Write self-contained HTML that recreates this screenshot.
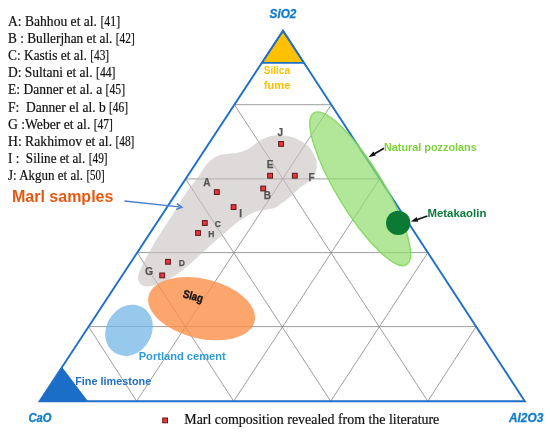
<!DOCTYPE html>
<html><head><meta charset="utf-8"><title>Ternary diagram</title>
<style>
html,body{margin:0;padding:0;background:#fff;}
body{width:550px;height:433px;overflow:hidden;}
svg{display:block;}
.ser{font-family:"Liberation Serif",serif;fill:#111;}
.san{font-family:"Liberation Sans",sans-serif;font-weight:bold;}
</style></head><body>
<svg width="550" height="433" viewBox="0 0 550 433">
<rect width="550" height="433" fill="#fff"/>
<!-- grid -->
<path d="M234.4 104.7L331.3 104.7M185.6 178.9L379.7 178.9M137.2 252.6L427.8 252.6M88.6 326.6L476.1 326.6M234.4 104.7L427.8 401.2M185.6 178.9L330.7 401.2M137.2 252.6L233.7 401.2M88.6 326.6L136.6 401.2M331.3 104.7L136.6 401.2M379.7 178.9L233.7 401.2M427.8 252.6L330.7 401.2M476.1 326.6L427.8 401.2" stroke="#8c8c8c" stroke-width="0.85" fill="none"/>
<!-- gray blob -->
<path d="M147.3 286.6C144.2 286.8 142.7 285.7 141.2 284.6C139.7 283.5 138.6 281.7 138.2 279.8C137.8 277.9 137.9 276.1 139.0 273.0C140.1 269.9 142.6 264.8 144.5 261.0C146.4 257.2 148.6 253.5 150.5 250.0C152.4 246.5 154.2 243.3 156.2 240.0C158.2 236.7 160.1 233.7 162.5 229.9C164.9 226.1 167.9 221.9 170.8 217.4C173.7 212.9 177.0 207.3 179.8 202.9C182.6 198.5 184.8 194.9 187.4 191.1C190.1 187.3 193.6 182.8 195.7 180.0C197.8 177.2 198.1 177.0 199.8 174.5C201.6 172.0 204.0 167.7 206.2 165.0C208.4 162.3 210.6 160.2 213.1 158.5C215.6 156.8 218.1 155.6 221.2 154.8C224.3 154.0 228.3 154.0 231.6 153.5C234.9 153.0 237.9 152.7 240.8 151.9C243.7 151.1 246.2 150.2 249.2 148.5C252.1 146.8 255.4 143.5 258.5 141.6C261.6 139.7 264.4 137.9 267.7 136.9C271.0 135.9 274.4 135.4 278.1 135.3C281.8 135.2 286.1 135.7 289.7 136.5C293.3 137.3 296.7 138.6 300.0 140.4C303.3 142.2 306.8 144.6 309.3 147.3C311.8 150.0 313.8 153.5 315.1 156.6C316.4 159.7 317.0 162.7 316.9 165.8C316.8 168.9 315.9 172.3 314.4 175.0C312.9 177.7 310.5 179.9 308.1 182.0C305.7 184.1 303.0 185.2 300.0 187.7C297.0 190.2 292.9 194.4 290.0 196.9C287.1 199.4 284.8 200.9 282.4 202.7C280.0 204.5 277.8 206.5 275.5 207.6C273.2 208.7 271.2 208.7 268.5 209.2C265.8 209.7 262.4 210.0 259.3 210.8C256.2 211.6 253.1 212.7 250.0 214.2C246.9 215.7 243.9 217.9 240.8 220.0C237.7 222.1 234.7 224.5 231.6 227.0C228.5 229.5 225.4 232.3 222.3 235.0C219.2 237.7 216.2 240.4 213.1 243.1C210.0 245.8 207.2 248.4 204.0 251.3C200.8 254.2 197.6 257.4 194.0 260.5C190.4 263.6 186.1 267.4 182.7 270.0C179.3 272.6 177.4 274.2 173.6 276.4C169.8 278.6 164.4 281.6 160.0 283.3C155.6 285.0 150.4 286.4 147.3 286.6Z" fill="#c8c2c2" fill-opacity="0.6"/>
<!-- slag -->
<ellipse cx="201.6" cy="308.7" rx="54.5" ry="29.8" transform="rotate(13.5 201.6 308.7)" fill="#fb8e47" fill-opacity="0.8"/>
<!-- portland -->
<ellipse cx="129" cy="330.3" rx="26.7" ry="22.6" transform="rotate(-58.5 129 330.3)" fill="#74b7e6" fill-opacity="0.75"/>
<!-- corner triangles -->
<path d="M283.0 30.7L261.8 62.9H304.0Z" fill="#ffc000" stroke="#1f6fc8" stroke-width="1.6"/>
<path d="M39.6 401.2L62 367L88 401.2Z" fill="#1b6ec8"/>
<!-- main triangle -->
<path d="M283.0 30.7L39.6 401.2H524.8Z" fill="none" stroke="#1f6fc8" stroke-width="1.9" stroke-linejoin="miter"/>
<!-- green ellipse -->
<ellipse cx="360.2" cy="188.8" rx="88.9" ry="23.1" transform="rotate(58.6 360.2 188.8)" fill="#91db6d" fill-opacity="0.7" stroke="#7fd858" stroke-width="1.4" stroke-opacity="0.9"/>
<circle cx="398.2" cy="222.9" r="12.2" fill="#0b7a32"/>
<!-- markers -->
<g fill="#ea363b" stroke="#5e1616" stroke-width="1">
<rect x="278.7" y="141.5" width="4.8" height="4.8"/>
<rect x="267.7" y="173.3" width="4.8" height="4.8"/>
<rect x="292.4" y="173.3" width="4.8" height="4.8"/>
<rect x="260.8" y="186.1" width="4.8" height="4.8"/>
<rect x="214.4" y="189.7" width="4.8" height="4.8"/>
<rect x="231.2" y="204.7" width="4.8" height="4.8"/>
<rect x="202.4" y="220.6" width="4.8" height="4.8"/>
<rect x="195.6" y="230.6" width="4.8" height="4.8"/>
<rect x="165.6" y="259.4" width="4.8" height="4.8"/>
<rect x="159.8" y="273.0" width="4.8" height="4.8"/>
<rect x="162.7" y="418.0" width="4.8" height="4.8"/>
</g>
<!-- marker labels -->
<g class="san" fill="#555" stroke="#555" stroke-width="0.25" font-size="10" text-anchor="middle">
<text x="280.4" y="136">J</text>
<text x="270" y="167.6">E</text>
<text x="311.6" y="180.5">F</text>
<text x="267.3" y="199.4">B</text>
<text x="206.9" y="186.4">A</text>
<text x="240.6" y="217.1">I</text>
<text x="217.7" y="226.6" font-size="8.5">C</text>
<text x="211.3" y="236.7" font-size="8.5">H</text>
<text x="181.8" y="265.8" font-size="8.5">D</text>
<text x="149.1" y="274.6" font-size="10.5">G</text>
</g>
<!-- arrows -->
<g stroke="#4a7fd2" stroke-width="1.35" fill="none">
<path d="M124.4 201L181.6 207.2"/><path d="M176.9 203.6L181.8 207.25L176.3 209.4" stroke-width="1.5"/>
</g>
<g stroke="#111" stroke-width="1.6" fill="#111">
<path d="M384 148.3L371.5 155.5"/><path d="M368.4 157.3L373.4 151.4L375.9 155.6Z" stroke="none"/>
<path d="M427.4 216L414.5 220.4"/><path d="M410.9 221.6L416.7 217.1L418.2 221.7Z" stroke="none"/>
</g>
<!-- legend list -->
<g class="ser" font-size="14" stroke="#111" stroke-width="0.2">
<text x="8" y="25.6" textLength="89.0" lengthAdjust="spacingAndGlyphs" xml:space="preserve">A: Bahhou et al.</text><text x="100.4" y="25.6" textLength="19.7" lengthAdjust="spacingAndGlyphs">[41]</text>
<text x="8" y="42.9" textLength="104.4" lengthAdjust="spacingAndGlyphs" xml:space="preserve">B : Bullerjhan et al.</text><text x="115.8" y="42.9" textLength="18.9" lengthAdjust="spacingAndGlyphs">[42]</text>
<text x="8" y="60.0" textLength="78.8" lengthAdjust="spacingAndGlyphs" xml:space="preserve">C: Kastis et al.</text><text x="90.2" y="60.0" textLength="18.9" lengthAdjust="spacingAndGlyphs">[43]</text>
<text x="8" y="77.0" textLength="84.6" lengthAdjust="spacingAndGlyphs" xml:space="preserve">D: Sultani et al.</text><text x="96.0" y="77.0" textLength="19.5" lengthAdjust="spacingAndGlyphs">[44]</text>
<text x="8" y="94.2" textLength="94.2" lengthAdjust="spacingAndGlyphs" xml:space="preserve">E: Danner et al. a</text><text x="105.6" y="94.2" textLength="19.5" lengthAdjust="spacingAndGlyphs">[45]</text>
<text x="8" y="111.8" textLength="97.7" lengthAdjust="spacingAndGlyphs" xml:space="preserve">F:  Danner el al. b</text><text x="109.1" y="111.8" textLength="18.9" lengthAdjust="spacingAndGlyphs">[46]</text>
<text x="8" y="128.7" textLength="82.3" lengthAdjust="spacingAndGlyphs" xml:space="preserve">G :Weber et al.</text><text x="93.7" y="128.7" textLength="19.2" lengthAdjust="spacingAndGlyphs">[47]</text>
<text x="8" y="145.9" textLength="104.1" lengthAdjust="spacingAndGlyphs" xml:space="preserve">H: Rakhimov et al.</text><text x="115.5" y="145.9" textLength="18.9" lengthAdjust="spacingAndGlyphs">[48]</text>
<text x="8" y="162.7" textLength="77.3" lengthAdjust="spacingAndGlyphs" xml:space="preserve">I :  Siline et al.</text><text x="88.7" y="162.7" textLength="18.9" lengthAdjust="spacingAndGlyphs">[49]</text>
<text x="8" y="179.6" textLength="75.0" lengthAdjust="spacingAndGlyphs" xml:space="preserve">J: Akgun et al.</text><text x="86.4" y="179.6" textLength="18.3" lengthAdjust="spacingAndGlyphs">[50]</text>
<text x="184.3" y="423.6" textLength="255" lengthAdjust="spacingAndGlyphs">Marl composition revealed from the literature</text>
</g>
<!-- sans labels -->
<g class="san">
<text x="12" y="202" font-size="16" fill="#e55a12">Marl samples</text>
<text x="269.6" y="17.6" font-size="12" font-style="italic" fill="#0f7ccb" stroke="#0f7ccb" stroke-width="0.3" textLength="26.8" lengthAdjust="spacingAndGlyphs">SiO2</text>
<text x="28.5" y="422.3" font-size="12" font-style="italic" fill="#0f7ccb" stroke="#0f7ccb" stroke-width="0.3" textLength="23.1" lengthAdjust="spacingAndGlyphs">CaO</text>
<text x="509" y="422.3" font-size="12" font-style="italic" fill="#0f7ccb" stroke="#0f7ccb" stroke-width="0.3" textLength="34.3" lengthAdjust="spacingAndGlyphs">Al2O3</text>
<text x="263.8" y="73.5" font-size="11" fill="#ffc000" textLength="26.2" lengthAdjust="spacingAndGlyphs">Silica</text>
<text x="263.8" y="88.8" font-size="11" fill="#ffc000" textLength="26.7" lengthAdjust="spacingAndGlyphs">fume</text>
<text x="383.9" y="151.1" font-size="11" fill="#7ed13b" textLength="92.9" lengthAdjust="spacingAndGlyphs">Natural pozzolans</text>
<text x="427.4" y="217.3" font-size="11.5" fill="#0a7a3a" textLength="59" lengthAdjust="spacingAndGlyphs">Metakaolin</text>
<text x="138.7" y="359.9" font-size="11" fill="#2e9bd6" textLength="87" lengthAdjust="spacingAndGlyphs">Portland cement</text>
<text x="75.2" y="384.6" font-size="11.4" fill="#1f6fc5" textLength="76" lengthAdjust="spacingAndGlyphs">Fine limestone</text>
<text x="182.9" y="300" font-size="11.5" fill="#111" stroke="#111" stroke-width="0.35" textLength="20.5" lengthAdjust="spacingAndGlyphs" transform="rotate(15 193 296)">Slag</text>
</g>
</svg>
</body></html>
